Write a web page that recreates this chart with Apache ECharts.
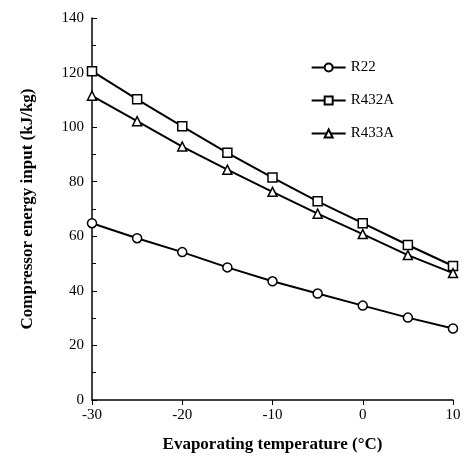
<!DOCTYPE html>
<html><head><meta charset="utf-8">
<script src="https://cdn.jsdelivr.net/npm/echarts@6/dist/echarts.min.js"></script>
<style>html,body{margin:0;padding:0;background:#fff}#c{width:474px;height:474px}</style>
</head><body><div id="c"></div>
<script>
const temps = [-30,-25,-20,-15,-10,-5,0,5,10];
const r22 = [64.8,59.3,54.2,48.6,43.5,39.0,34.6,30.2,26.2];
const r432a = [120.5,110.2,100.3,90.6,81.5,72.8,64.8,56.8,49.1];
const r433a = [111.5,102.2,92.9,84.4,76.3,68.3,60.8,53.1,46.5];
const font = '"Liberation Serif", "Times New Roman", serif';
function mk(name, data, sym){
  return {name, type:'line', data: temps.map((t,i)=>[t,data[i]]), symbol:sym, symbolSize:9,
    lineStyle:{color:'#000',width:2}, itemStyle:{color:'#fff',borderColor:'#000',borderWidth:1.5}};
}
const chart = echarts.init(document.getElementById('c'));
chart.setOption({
  animation:false,
  grid:{left:92,right:21,top:18,bottom:74},
  legend:{orient:'vertical', right:75, top:55, itemGap:18, itemWidth:34, itemHeight:10,
    textStyle:{fontFamily:font,fontSize:15,color:'#000'},
    data:['R22','R432A','R433A']},
  xAxis:{type:'value',min:-30,max:10,interval:10,
    name:'Evaporating temperature (°C)',nameLocation:'middle',nameGap:36,
    nameTextStyle:{fontFamily:font,fontSize:17,fontWeight:'bold',color:'#000'},
    axisLine:{onZero:false,lineStyle:{color:'#000',width:1.5}},axisTick:{inside:false,lineStyle:{color:'#000'}},
    axisLabel:{fontFamily:font,fontSize:15,color:'#000'},splitLine:{show:false}},
  yAxis:{type:'value',min:0,max:140,interval:20,
    name:'Compressor energy input (kJ/kg)',nameLocation:'middle',nameGap:56,
    nameTextStyle:{fontFamily:font,fontSize:17,fontWeight:'bold',color:'#000'},
    axisLine:{show:true,onZero:false,lineStyle:{color:'#000',width:1.5}},axisTick:{show:true,inside:true,lineStyle:{color:'#000'}},
    minorTick:{show:true,splitNumber:2,length:4,lineStyle:{color:'#000'}},
    axisLabel:{fontFamily:font,fontSize:15,color:'#000'},splitLine:{show:false}},
  series:[mk('R22',r22,'circle'),mk('R432A',r432a,'rect'),mk('R433A',r433a,'triangle')]
});
</script></body></html>
